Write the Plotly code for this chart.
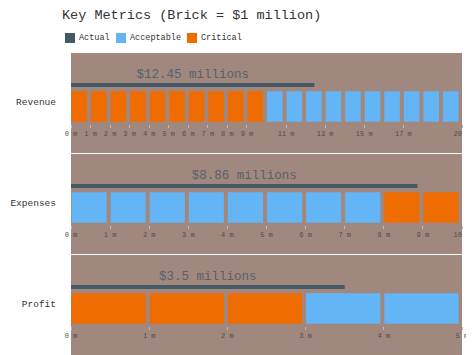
import plotly.graph_objects as go

# ---- data ----
categories = ["Revenue", "Expenses", "Profit"]
actual_values = [12.45, 8.86, 3.5]
range_max = [20, 10, 5]
critical_start = [0, 8, 0]
critical_end = [10, 10, 3]
shown_ticks = [
    [0, 1, 2, 3, 4, 5, 6, 7, 8, 9, 11, 13, 15, 17, 20],
    [0, 1, 2, 3, 4, 5, 6, 7, 8, 9, 10],
    [0, 1, 2, 3, 4, 5],
]
value_labels = ["$12.45 millions", "$8.86 millions", "$3.5 millions"]
legend_names = ["Actual", "Acceptable", "Critical"]

# ---- style ----
C_ACTUAL = "#455A64"
C_ACCEPT = "#64B5F6"
C_CRIT = "#EF6C00"
C_BG = "#A1887F"
FONT = "Liberation Mono"

OFF = 8  # page body margin
W, H = 474 - OFF, 355 - OFF
ML, MR, MT, MB = 71 - OFF, 12, 53 - OFF, 0
PW = W - ML - MR
PH = H - MT - MB
GAP = 1
PANEL = (PH - 2 * GAP) / 3


def yfrac(px):
    # px given in page pixels
    return (H - MB - (px - OFF)) / PH


def xfrac(px):
    return (px - OFF - ML) / PW


fig = go.Figure()
layout_axes = {}
for i, cat in enumerate(categories):
    n = "" if i == 0 else str(i + 1)
    top = 53 + i * (PANEL + GAP)  # page px
    xa, ya = "x" + n, "y" + n
    upx = PW / range_max[i]
    starts, lengths, colors = [], [], []
    for b in range(range_max[i]):
        starts.append(b + 0.5 / upx)
        lengths.append(1 - 4.0 / upx)
        crit = critical_start[i] <= b < critical_end[i]
        colors.append(C_CRIT if crit else C_ACCEPT)
    fig.add_trace(go.Bar(orientation="h", y=[53.5] * len(starts), x=lengths, base=starts,
                         width=30.5, marker=dict(color=colors, line=dict(width=0)),
                         xaxis=xa, yaxis=ya, showlegend=False, hoverinfo="skip"))
    fig.add_trace(go.Scatter(x=[0, actual_values[i]], y=[32, 32], mode="lines",
                             line=dict(color=C_ACTUAL, width=4), xaxis=xa, yaxis=ya,
                             showlegend=False, hoverinfo="skip"))
    fig.add_trace(go.Scatter(x=[actual_values[i] / 2], y=[22], mode="text",
                             text=[value_labels[i]],
                             textfont=dict(family=FONT, size=12.5, color="#56616b"),
                             xaxis=xa, yaxis=ya, showlegend=False, hoverinfo="skip"))
    dom = [yfrac(top + PANEL), yfrac(top)]
    layout_axes["xaxis" + n] = dict(
        range=[0, range_max[i]], domain=[0, 1], anchor="free", position=yfrac(top + 71),
        tickvals=shown_ticks[i], ticktext=[f"{t} m" for t in shown_ticks[i]],
        ticks="outside", ticklen=3, tickcolor="#c8b8b2", showgrid=False, zeroline=False,
        showline=False, tickfont=dict(family=FONT, size=7, color="#4e4a48"), fixedrange=True)
    layout_axes["yaxis" + n] = dict(
        range=[PANEL, 0], domain=dom, anchor=xa, tickvals=[49], ticktext=[cat],
        ticks="", ticklabelstandoff=14, showgrid=False, zeroline=False, showline=False,
        tickfont=dict(family=FONT, size=9.5, color="#333333"), fixedrange=True)

# manual legend
shapes, annotations = [], []
leg_colors = [C_ACTUAL, C_ACCEPT, C_CRIT]
leg_x = [65, 116, 187]
for name, col, lx in zip(legend_names, leg_colors, leg_x):
    shapes.append(dict(type="rect", xref="paper", yref="paper",
                       x0=xfrac(lx), x1=xfrac(lx + 10),
                       y0=yfrac(43), y1=yfrac(33), fillcolor=col, line=dict(width=0)))
    annotations.append(dict(text=name, xref="paper", yref="paper", x=xfrac(lx + 12),
                            y=yfrac(38), xanchor="left", yanchor="middle", showarrow=False,
                            font=dict(family=FONT, size=8.5, color="#333333")))

fig.update_layout(
    width=W, height=H, margin=dict(l=ML, r=MR, t=MT, b=MB),
    paper_bgcolor="white", plot_bgcolor=C_BG, barmode="overlay",
    title=dict(text="Key Metrics (Brick = $1 million)", x=(62 - OFF) / W, xanchor="left",
               y=1 - (14 - OFF) / H, yanchor="middle",
               font=dict(family=FONT, size=13.5, color="#333333")),
    shapes=shapes, annotations=annotations, showlegend=False,
    **layout_axes,
)
fig.write_html("out.html")
